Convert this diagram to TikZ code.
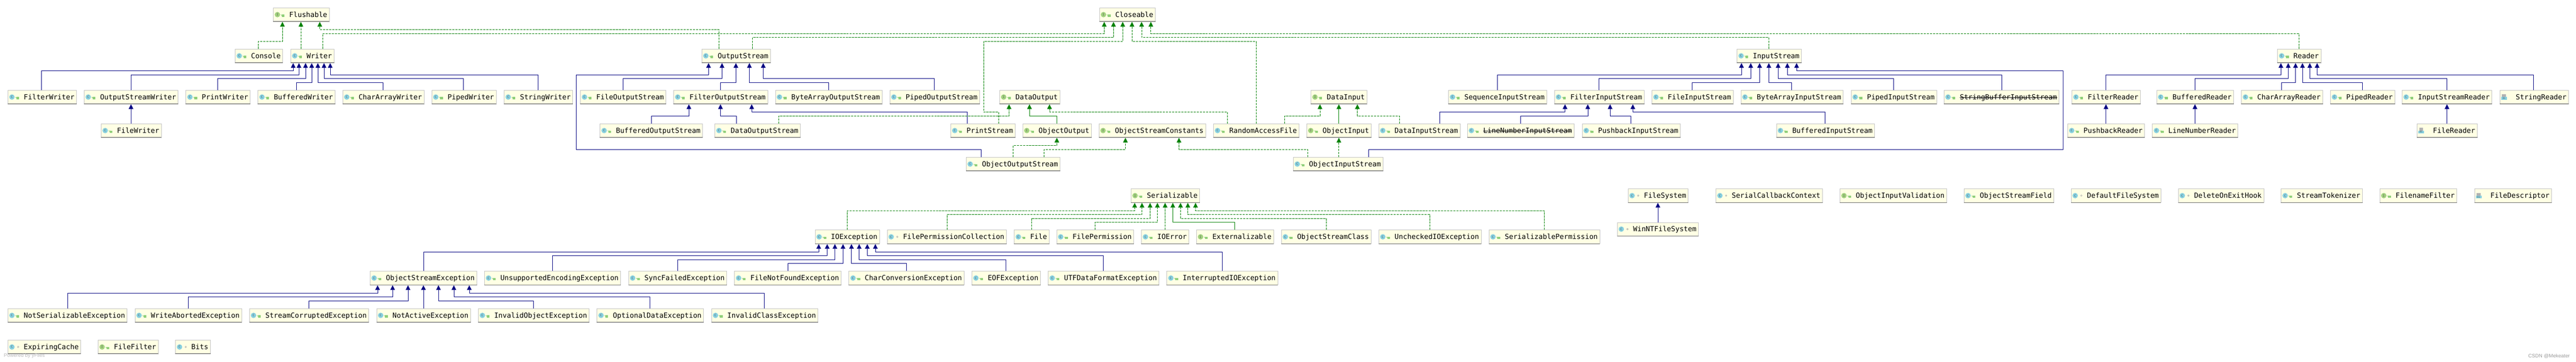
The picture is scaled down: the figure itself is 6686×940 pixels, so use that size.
\documentclass[tikz,border=0pt]{standalone}
\usepackage{fontspec}
\setmainfont{DejaVu Sans Mono}
\newfontfamily\markfont{Liberation Sans}
\usetikzlibrary{arrows.meta, positioning}
\definecolor{boxfill}{HTML}{FFFFE4}
\definecolor{boxedge}{HTML}{C4C4C4}
\definecolor{classblue}{HTML}{87D0E0}
\definecolor{ifacegreen}{HTML}{A2D27E}
\definecolor{lockgreen}{HTML}{8FCF78}
\definecolor{extnavy}{HTML}{000080}
\definecolor{implgreen}{HTML}{008000}
\tikzset{
    block/.style = {rectangle, anchor=north west, draw=boxedge, line width=0.9pt, fill=boxfill,
        minimum height=36pt, inner xsep=5.3pt, inner ysep=0pt, text height=13pt, text depth=1pt,
        font=\fontsize{18.2}{20}\selectfont, execute at begin node={\hspace*{36pt}}},
    boxrule/.style = {draw=black!58, line width=1.1pt},
    iconmark/.style = {inner sep=0pt, text=black!65, font=\fontsize{8}{8}\selectfont},
    markline/.style = {inner sep=0pt, font=\markfont\fontsize{13}{14}\selectfont},
    extline/.style = {draw=extnavy, line width=0.9pt, -{Triangle[length=12pt,width=12pt,fill=extnavy]}},
    implline/.style = {draw=implgreen, line width=0.9pt, dash pattern=on 6pt off 2pt, -{Triangle[length=12pt,width=12pt,fill=implgreen]}},
    ifaceline/.style = {draw=implgreen, line width=0.9pt, -{Triangle[length=12pt,width=12pt,fill=implgreen]}},
    lockmark/.pic = {
        \fill[lockgreen] (22.5,18) rectangle (29.5,23.5);
        \draw[lockgreen, line width=1pt] (20,18) arc[start angle=180, end angle=0, radius=2.2];
    },
    classpub/.pic = {
        \fill[classblue] (11,18) circle (7);
        \node[iconmark] at (11,18) {C};
        \pic {lockmark};
    },
    classlocal/.pic = {
        \fill[classblue] (11,18) circle (7);
        \node[iconmark] at (11,18) {C};
        \draw[black!35, line width=0.8pt] (27,18) circle (2);
    },
    ifacepub/.pic = {
        \fill[ifacegreen] (11,18) circle (7);
        \node[iconmark] at (11,18) {I};
        \pic {lockmark};
    },
    filemark/.pic = {
        \fill[black!30] (6,11) rectangle (16,18);
        \fill[classblue] (4,18) rectangle (19,25);
        \node[iconmark, font=\fontsize{6}{6}\selectfont] at (11,21.5) {01};
    },
}
\newcommand{\cls}[4][classpub]{
    \node [block] (#4) at (#2,#3) {#4};
    \path [boxrule] ([yshift=1.4pt]#4.south west) -- ([yshift=1.4pt]#4.south east);
    \pic at (#2,#3) {#1};
}
\newcommand{\struck}[1]{\setbox0\hbox{#1}\rlap{\rule[5pt]{\wd0}{1pt}}\box0}
\newcommand{\oldcls}[3]{
    \node [block] (#3) at (#1,#2) {\struck{#3}};
    \path [boxrule] ([yshift=1.4pt]#3.south west) -- ([yshift=1.4pt]#3.south east);
    \pic at (#1,#2) {classpub};
}
\newcommand{\link}[6][extline]{
    \draw [#1] (#3,0 |- #2.north) -- (#3,#4) -- (#5,#4) -- (#5,0 |- #6.south);
}
\newcommand{\uplink}[4][extline]{
    \draw [#1] (#3,0 |- #2.north) -- (#3,0 |- #4.south);
}
\begin{document}
\begin{tikzpicture}[x=1pt, y=-1pt]
    \useasboundingbox (0,0) rectangle (6686,940);

    % Place classes, top rows
    \cls[ifacepub]{709}{20}{Flushable}
    \cls[ifacepub]{2853}{20}{Closeable}
    \cls{610}{127}{Console}
    \cls{754}{127}{Writer}
    \cls{1821}{127}{OutputStream}
    \cls{4508}{127}{InputStream}
    \cls{5911}{127}{Reader}

    \cls{20}{234}{FilterWriter}
    \cls{218}{234}{OutputStreamWriter}
    \cls{482}{234}{PrintWriter}
    \cls{669}{234}{BufferedWriter}
    \cls{889}{234}{CharArrayWriter}
    \cls{1120}{234}{PipedWriter}
    \cls{1308}{234}{StringWriter}
    \cls{1506}{234}{FileOutputStream}
    \cls{1748}{234}{FilterOutputStream}
    \cls{2012}{234}{ByteArrayOutputStream}
    \cls{2309}{234}{PipedOutputStream}
    \cls[ifacepub]{2594}{234}{DataOutput}
    \cls[ifacepub]{3402}{234}{DataInput}
    \cls{3759}{234}{SequenceInputStream}
    \cls{4034}{234}{FilterInputStream}
    \cls{4287}{234}{FileInputStream}
    \cls{4518}{234}{ByteArrayInputStream}
    \cls{4804}{234}{PipedInputStream}
    \oldcls{5045}{234}{StringBufferInputStream}
    \cls{5377}{234}{FilterReader}
    \cls{5597}{234}{BufferedReader}
    \cls{5817}{234}{CharArrayReader}
    \cls{6048}{234}{PipedReader}
    \cls{6234}{234}{InputStreamReader}
    \cls[filemark]{6488}{234}{StringReader}

    \cls{262}{321}{FileWriter}
    \cls{1557}{321}{BufferedOutputStream}
    \cls{1855}{321}{DataOutputStream}
    \cls{2467}{321}{PrintStream}
    \cls[ifacepub]{2654}{321}{ObjectOutput}
    \cls[ifacepub]{2852}{321}{ObjectStreamConstants}
    \cls{3149}{321}{RandomAccessFile}
    \cls[ifacepub]{3391}{321}{ObjectInput}
    \cls{3578}{321}{DataInputStream}
    \oldcls{3808}{321}{LineNumberInputStream}
    \cls{4106}{321}{PushbackInputStream}
    \cls{4610}{321}{BufferedInputStream}
    \cls{5366}{321}{PushbackReader}
    \cls{5586}{321}{LineNumberReader}
    \cls[filemark]{6273}{321}{FileReader}

    \cls{2507}{408}{ObjectOutputStream}
    \cls{3356}{408}{ObjectInputStream}

    % Place classes, bottom rows
    \cls[ifacepub]{2935}{490}{Serializable}
    \cls[classlocal]{4225}{490}{FileSystem}
    \cls[classlocal]{4453}{490}{SerialCallbackContext}
    \cls[ifacepub]{4775}{490}{ObjectInputValidation}
    \cls{5097}{490}{ObjectStreamField}
    \cls[classlocal]{5375}{490}{DefaultFileSystem}
    \cls[classlocal]{5653}{490}{DeleteOnExitHook}
    \cls{5920}{490}{StreamTokenizer}
    \cls[ifacepub]{6176}{490}{FilenameFilter}
    \cls[filemark]{6422}{490}{FileDescriptor}
    \cls[classlocal]{4197}{577}{WinNTFileSystem}

    \cls{2115}{597}{IOException}
    \cls[classlocal]{2302}{597}{FilePermissionCollection}
    \cls{2632}{597}{File}
    \cls{2742}{597}{FilePermission}
    \cls{2962}{597}{IOError}
    \cls[ifacepub]{3105}{597}{Externalizable}
    \cls{3325}{597}{ObjectStreamClass}
    \cls{3578}{597}{UncheckedIOException}
    \cls{3864}{597}{SerializablePermission}

    \cls{960}{704}{ObjectStreamException}
    \cls{1257}{704}{UnsupportedEncodingException}
    \cls{1631}{704}{SyncFailedException}
    \cls{1906}{704}{FileNotFoundException}
    \cls{2203}{704}{CharConversionException}
    \cls{2522}{704}{EOFException}
    \cls{2720}{704}{UTFDataFormatException}
    \cls{3028}{704}{InterruptedIOException}

    \cls{20}{801}{NotSerializableException}
    \cls{350}{801}{WriteAbortedException}
    \cls{647}{801}{StreamCorruptedException}
    \cls{977}{801}{NotActiveException}
    \cls{1241}{801}{InvalidObjectException}
    \cls{1549}{801}{OptionalDataException}
    \cls{1846}{801}{InvalidClassException}

    \cls[classlocal]{20}{883}{ExpiringCache}
    \cls[ifacepub]{254}{883}{FileFilter}
    \cls[classlocal]{455}{883}{Bits}

    \node [markline, text=black!28, anchor=west] (poweredby) at (10,924) {Powered by yFiles};
    \node [markline, text=black!40, anchor=east] (watermark) at (6670,925) {CSDN @Mekeater};

    % Flushable and Closeable
    \link[implline]{Console}{671}{107}{733}{Flushable}
    \uplink[implline]{Writer}{781}{Flushable}
    \link[implline]{OutputStream}{1866}{77}{830}{Flushable}
    \link[implline]{Writer}{837}{87}{2866}{Closeable}
    \link[implline]{OutputStream}{1953}{97}{2890}{Closeable}
    \draw [implline] (2592,0 |- PrintStream.north) -- (2592,291) -- (2553,291) -- (2553,107) -- (2914,107) -- (2914,0 |- Closeable.south);
    \link[implline]{RandomAccessFile}{3260}{107}{2938}{Closeable}
    \link[implline]{InputStream}{4591}{97}{2963}{Closeable}
    \link[implline]{Reader}{5967}{87}{2987}{Closeable}

    % Writer
    \link{FilterWriter}{108}{184}{761}{Writer}
    \link{OutputStreamWriter}{340}{194}{776}{Writer}
    \link{PrintWriter}{565}{204}{793}{Writer}
    \link{BufferedWriter}{769}{214}{809}{Writer}
    \link{CharArrayWriter}{994}{214}{825}{Writer}
    \link{PipedWriter}{1203}{204}{841}{Writer}
    \link{StringWriter}{1396}{194}{857}{Writer}
    \uplink{FileWriter}{340}{OutputStreamWriter}

    % OutputStream
    \draw [extline] (2547,0 |- ObjectOutputStream.north) -- (2547,388) -- (1496,388) -- (1496,194) -- (1839,194) -- (1839,0 |- OutputStream.south);
    \link{FileOutputStream}{1617}{204}{1874}{OutputStream}
    \link{FilterOutputStream}{1870}{214}{1910}{OutputStream}
    \link{ByteArrayOutputStream}{2150}{214}{1945}{OutputStream}
    \link{PipedOutputStream}{2425}{204}{1981}{OutputStream}
    \link{BufferedOutputStream}{1690}{301}{1788}{FilterOutputStream}
    \link{DataOutputStream}{1911}{301}{1870}{FilterOutputStream}
    \link{PrintStream}{2510}{291}{1951}{FilterOutputStream}

    % DataOutput and ObjectOutput
    \link[implline]{DataOutputStream}{2021}{301}{2619}{DataOutput}
    \link[ifaceline]{ObjectOutput}{2743}{301}{2672}{DataOutput}
    \link[implline]{RandomAccessFile}{3186}{291}{2724}{DataOutput}
    \link[implline]{ObjectOutputStream}{2629}{378}{2743}{ObjectOutput}
    \link[implline]{ObjectOutputStream}{2710}{388}{2921}{ObjectStreamConstants}
    \link[implline]{ObjectInputStream}{3394}{388}{3060}{ObjectStreamConstants}

    % DataInput and ObjectInput
    \link[implline]{RandomAccessFile}{3334}{301}{3426}{DataInput}
    \uplink[ifaceline]{ObjectInput}{3475}{DataInput}
    \link[implline]{DataInputStream}{3632}{301}{3523}{DataInput}
    \uplink[implline]{ObjectInputStream}{3475}{ObjectInput}

    % InputStream
    \link{SequenceInputStream}{3886}{194}{4520}{InputStream}
    \link{FilterInputStream}{4150}{204}{4544}{InputStream}
    \link{FileInputStream}{4392}{214}{4567}{InputStream}
    \link{ByteArrayInputStream}{4650}{214}{4591}{InputStream}
    \link{PipedInputStream}{4914}{204}{4615}{InputStream}
    \link{StringBufferInputStream}{5195}{194}{4639}{InputStream}
    \draw [extline] (3552,0 |- ObjectInputStream.north) -- (3552,388) -- (5355,388) -- (5355,184) -- (4663,184) -- (4663,0 |- InputStream.south);
    \link{DataInputStream}{3736}{291}{4062}{FilterInputStream}
    \link{LineNumberInputStream}{3947}{301}{4121}{FilterInputStream}
    \link{PushbackInputStream}{4233}{301}{4179}{FilterInputStream}
    \link{BufferedInputStream}{4737}{291}{4238}{FilterInputStream}

    % Reader
    \link{FilterReader}{5466}{194}{5920}{Reader}
    \link{BufferedReader}{5697}{204}{5939}{Reader}
    \link{CharArrayReader}{5922}{214}{5958}{Reader}
    \link{PipedReader}{6131}{214}{5976}{Reader}
    \link{InputStreamReader}{6351}{204}{5995}{Reader}
    \link{StringReader}{6576}{194}{6014}{Reader}
    \uplink{PushbackReader}{5466}{FilterReader}
    \uplink{LineNumberReader}{5697}{BufferedReader}
    \uplink{FileReader}{6351}{InputStreamReader}
    \uplink{WinNTFileSystem}{4303}{FileSystem}

    % Serializable
    \link[implline]{IOException}{2199}{547}{2945}{Serializable}
    \link[implline]{FilePermissionCollection}{2458}{557}{2964}{Serializable}
    \link[implline]{File}{2677}{567}{2985}{Serializable}
    \link[implline]{FilePermission}{2842}{577}{3004}{Serializable}
    \uplink[implline]{IOError}{3024}{Serializable}
    \link[ifaceline]{Externalizable}{3205}{577}{3044}{Serializable}
    \link[implline]{ObjectStreamClass}{3442}{567}{3064}{Serializable}
    \link[implline]{UncheckedIOException}{3711}{557}{3083}{Serializable}
    \link[implline]{SerializablePermission}{4008}{547}{3103}{Serializable}

    % IOException
    \link{ObjectStreamException}{1099}{654}{2125}{IOException}
    \link{UnsupportedEncodingException}{1434}{664}{2147}{IOException}
    \link{SyncFailedException}{1759}{674}{2167}{IOException}
    \link{FileNotFoundException}{2045}{684}{2188}{IOException}
    \link{CharConversionException}{2353}{684}{2210}{IOException}
    \link{EOFException}{2611}{674}{2230}{IOException}
    \link{UTFDataFormatException}{2864}{664}{2251}{IOException}
    \link{InterruptedIOException}{3172}{654}{2272}{IOException}

    % ObjectStreamException
    \link{NotSerializableException}{175}{761}{980}{ObjectStreamException}
    \link{WriteAbortedException}{488}{771}{1019}{ObjectStreamException}
    \link{StreamCorruptedException}{802}{781}{1059}{ObjectStreamException}
    \uplink{NotActiveException}{1099}{ObjectStreamException}
    \link{InvalidObjectException}{1385}{781}{1138}{ObjectStreamException}
    \link{OptionalDataException}{1687}{771}{1178}{ObjectStreamException}
    \link{InvalidClassException}{1984}{761}{1218}{ObjectStreamException}
\end{tikzpicture}
\end{document}
